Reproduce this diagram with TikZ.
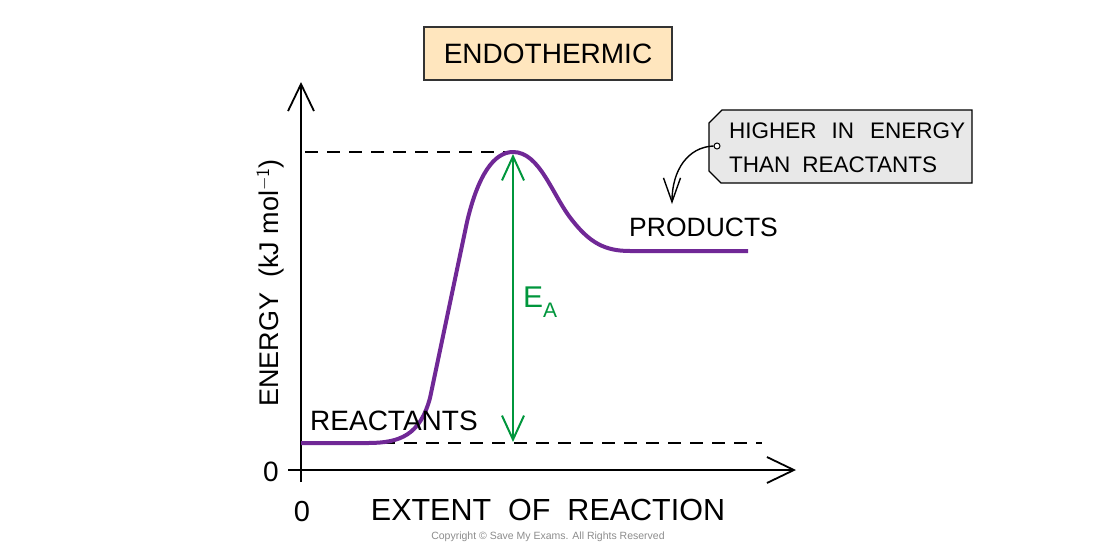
\documentclass[tikz,border=0pt]{standalone}
\usepackage{fontspec}
\setmainfont{Liberation Sans}
\usetikzlibrary{arrows.meta}
\definecolor{curvepurple}{RGB}{112,40,150}
\definecolor{eagreen}{RGB}{0,150,60}
\definecolor{titlefill}{RGB}{255,230,190}
\definecolor{tagfill}{RGB}{232,232,232}
\tikzset{
  axis/.style={line width=1.8pt, -{Straight Barb[length=27pt,width=26pt,line width=1.8pt]}},
  guide/.style={line width=1.7pt, dash pattern=on 13pt off 9pt},
  curve/.style={line width=4pt, curvepurple, line join=round},
  eaarrow/.style={line width=2pt, eagreen, {Straight Barb[length=24pt,width=22pt,line width=2pt]}-{Straight Barb[length=24pt,width=22pt,line width=2pt]}},
  lbl/.style={inner sep=0pt, text=black},
}
\newcommand{\fs}[1]{\fontsize{#1}{#1}\selectfont}
\begin{document}
\begin{tikzpicture}[x=1pt,y=-1pt]
\useasboundingbox (0,0) rectangle (1100,557);
% title
\node[draw=black!80, line width=1.2pt, fill=titlefill, minimum width=248pt, minimum height=53pt, inner sep=0pt, font=\fs{28}] (title) at (548,53.5) {ENDOTHERMIC};
% axes
\coordinate (ybot) at (301,482);
\coordinate (ytop) at (301,82);
\coordinate (xleft) at (288,470);
\coordinate (xright) at (796,470);
\draw[axis] (ybot) -- (ytop);
\draw[axis] (xleft) -- (xright);
% dashed guides
\coordinate (g1a) at (305,152);
\coordinate (g1b) at (510,152);
\coordinate (g2a) at (382,443);
\coordinate (g2b) at (762,443);
\draw[guide] (g1a) -- (g1b);
\draw[guide] (g2a) -- (g2b);
% energy profile
\coordinate (cstart) at (301,443);
\coordinate (peak) at (513,152);
\coordinate (cend) at (748,251);
\draw[curve] (cstart) -- (368,443)
  .. controls (400,443) and (420,435) .. (430,398)
  -- (467,222)
  .. controls (478,175) and (494,152) .. (peak)
  .. controls (540,152) and (552,195) .. (572,220)
  .. controls (590,243) and (605,251) .. (630,251)
  -- (cend);
% activation energy
\coordinate (eatop) at (513,154);
\coordinate (eabot) at (513,442);
\draw[eaarrow] (eabot) -- (eatop);
\node[lbl, text=eagreen, font=\fs{30}, anchor=west] (ea) at (523,302) {E\raisebox{-0.35em}{\fs{21}A}};
% labels
\node[lbl, font=\fs{28}, anchor=base west] (react) at (310,430) {REACTANTS};
\node[lbl, font=\fs{26.5}, anchor=base west] (prod) at (629,236) {PRODUCTS};
\node[lbl, font=\fs{28}] (zy) at (271,472) {0};
\node[lbl, font=\fs{29}] (zx) at (302,512) {0};
\node[lbl, font=\fs{30.5}] (xlab) at (548,510) {EXTENT\ \ OF\ \ REACTION};
\node[lbl, font=\fs{27}, rotate=90] (ylab) at (270,283) {ENERGY\ \ (kJ mol$^{\mathsf{-1}}$)};
% tag callout
\draw[line width=1.2pt, fill=tagfill] (722,110) -- (972,110) -- (972,183) -- (721,183) -- (709,171) -- (709,123) -- cycle;
\node[draw, circle, line width=1pt, fill=white, minimum size=6pt, inner sep=0pt] (hole) at (717,146) {};
\node[lbl, font=\fs{22.5}, anchor=base west] (tag1) at (729,138) {HIGHER\hspace{15pt}IN\hspace{16pt}ENERGY};
\node[lbl, font=\fs{22.5}, anchor=base west] (tag2) at (729,172) {THAN\hspace{12pt}REACTANTS};
\coordinate (ptip) at (672,204);
\draw[line width=1.4pt, -{Straight Barb[length=24pt,width=17pt,line width=1.4pt]}] (hole.west) .. controls (688,147) and (672,170) .. (ptip);
% copyright
\node[lbl, text=black!45, font=\fs{10.5}] (copy) at (548,537) {Copyright \textcopyright{} Save My Exams. All Rights Reserved};
\end{tikzpicture}
\end{document}
